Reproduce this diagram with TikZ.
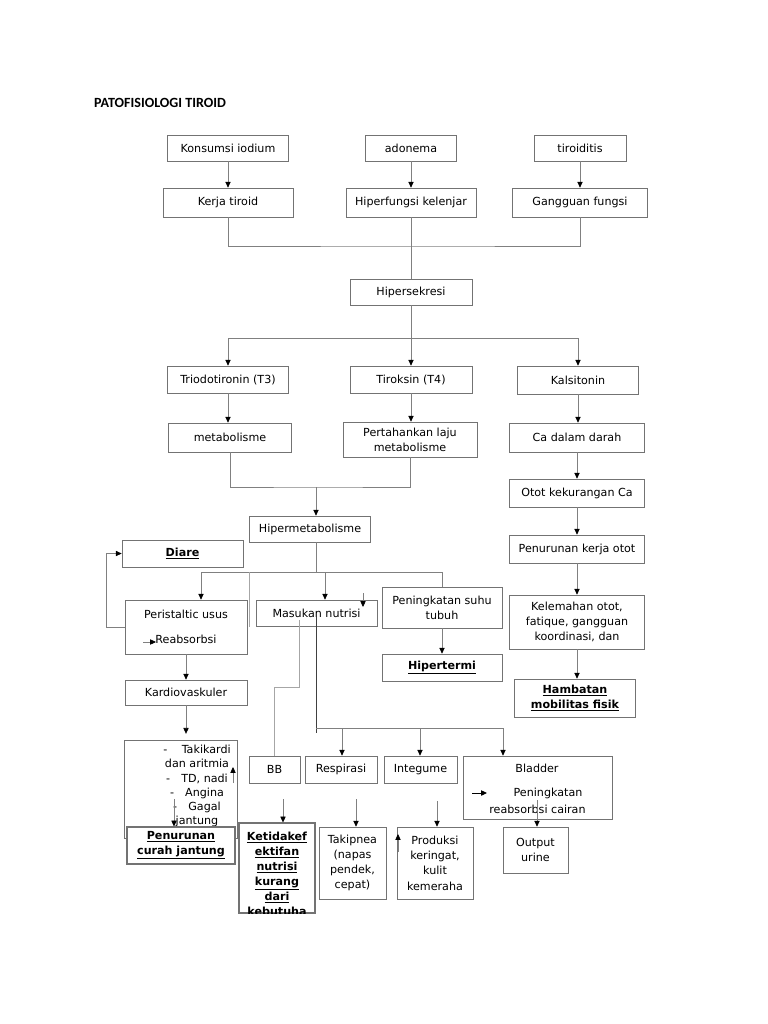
\documentclass[tikz,border=0pt]{standalone}
\usepackage{fontspec}
\setmainfont{DejaVu Sans}
\newfontfamily\titlefont{Carlito}
\usetikzlibrary{arrows.meta}
\newcommand{\undl}[1]{\underline{#1}}
\tikzset{
  box/.style={draw=black!55, line width=0.55pt, inner sep=0pt, align=center, font=\fontsize{9.5}{13}\selectfont},
  sz/.style 2 args={minimum width=#1*0.03cm, minimum height=#2*0.03cm},
  hd/.style={font=\fontsize{9.5}{12.5}\selectfont\bfseries},
  txt/.style={inner sep=0pt, align=center, font=\fontsize{9.5}{13}\selectfont},
  ln/.style={draw=black!50, line width=0.6pt},
  arr/.style={ln, -{Triangle[length=5pt, width=4.5pt, color=black]}},
}
\begin{document}
\begin{tikzpicture}[x=0.03cm, y=-0.03cm]
\fill[white] (0,0) rectangle (768,1024);
\useasboundingbox (0,0) rectangle (768,1024);
\node[anchor=west, font=\titlefont\fontsize{12}{14}\selectfont\bfseries] (title) at (90,103) {PATOFISIOLOGI TIROID};

\node[box, sz={121}{26}] (konsumsi) at (228,148) {Konsumsi iodium};
\node[box, sz={91}{26}] (adonema) at (411,148) {adonema};
\node[box, sz={92}{26}] (tiroiditis) at (580,148) {tiroiditis};
\node[box, sz={130}{29}] (kerja) at (228,202.5) {Kerja tiroid};
\node[box, sz={130}{29}] (hiperfungsi) at (411,202.5) {Hiperfungsi kelenjar};
\node[box, sz={135}{29}] (gangguan) at (580,202.5) {Gangguan fungsi};
\node[box, sz={122}{26}] (hipersekresi) at (411,292) {Hipersekresi};
\node[box, sz={121}{27}] (tiga) at (228,379.5) {Triodotironin (T3)};
\node[box, sz={122}{27}] (empat) at (411,379.5) {Tiroksin (T4)};
\node[box, sz={121}{28}] (kalsitonin) at (578,380) {Kalsitonin};
\node[box, sz={123}{29}] (metab) at (230,437.5) {metabolisme};
\node[box, sz={134}{35}] (laju) at (410,439.5) {Pertahankan laju\\metabolisme};
\node[box, sz={135}{29}] (ca) at (577,437.5) {Ca dalam darah};
\node[box, sz={135}{28}] (otot) at (577,493) {Otot kekurangan Ca};
\node[box, sz={135}{28}] (kerjaotot) at (577,549) {Penurunan kerja otot};
\node[box, sz={135}{54}] (lemah) at (577,622) {Kelemahan otot,\\fatique, gangguan\\koordinasi, dan};
\node[box, hd, sz={121}{38}] (hambatan) at (575,698) {\undl{Hambatan}\\\undl{mobilitas fisik}};

\foreach \a/\b in {konsumsi/kerja, adonema/hiperfungsi, tiroiditis/gangguan, tiga/metab, empat/laju, kalsitonin/ca, ca/otot, otot/kerjaotot, kerjaotot/lemah, lemah/hambatan}
  \draw[arr] (\a.south) -- (\a.south |- \b.north);

\coordinate (j1) at (411,246);
\draw[ln] (kerja.south) |- (j1) -| (gangguan.south);
\draw[ln] (hiperfungsi.south) -- (hipersekresi.north);
\coordinate (j2) at (411,338);
\draw[ln] (hipersekresi.south) -- (j2);
\draw[arr] (j2) -| (tiga.north);
\draw[arr] (j2) -- (empat.north);
\draw[arr] (j2) -| (kalsitonin.north);

\node[box, sz={121}{26}] (hipermeta) at (310,529) {Hipermetabolisme};
\coordinate (j3) at (316,487);
\draw[ln] (metab.south) |- (j3) -| (laju.south);
\draw[arr] (j3) -- (j3 |- hipermeta.north);

\node[box, hd, sz={121}{27}] (diare) at (182.5,553.5) {\undl{Diare}};
\node[box, sz={122}{54}] (peristaltic) at (186,627) {Peristaltic usus\\[8pt]Reabsorbsi};
\node[box, sz={121}{26}] (masukan) at (316.5,613) {Masukan nutrisi};
\node[box, sz={120}{41}] (suhu) at (442,607.5) {Peningkatan suhu\\tubuh};
\node[box, hd, sz={120}{27}] (hipertermi) at (442,667.5) {\undl{Hipertermi}};
\node[box, sz={122}{25}] (kardio) at (186,692.5) {Kardiovaskuler};

\coordinate (j4) at (316,572);
\coordinate (b0) at (249,572);
\coordinate (b1) at (201,572);
\coordinate (b2) at (325,572);
\coordinate (b3) at (442,572);
\draw[ln] (j3 |- hipermeta.south) -- (j4);
\draw[ln] (b1) -- (b3);
\draw[arr] (b1) -- (b1 |- peristaltic.north);
\draw[arr] (b2) -- (b2 |- masukan.north);
\draw[ln] (b3) -- (suhu.north);
\draw[ln, draw=black!35] (b0) -- (b0 |- peristaltic.center);
\draw[arr] (suhu.south) -- (hipertermi.north);
\draw[arr] (peristaltic.west) -- ++(-18,0) |- (diare.west);
\coordinate (r1) at (143,642);
\draw[arr] (r1) -- ++(13,0);
\coordinate (r2) at (363,593);
\draw[arr] (r2) -- ++(0,14);
\draw[arr] (peristaltic.south) -- (peristaltic.south |- kardio.north);

\node[box, sz={113}{98}] (takikardi) at (180.5,789) {};
\node[txt, font=\fontsize{9.5}{12}\selectfont] (takitxt) at (197,786) {-\hspace{1.3em}Takikardi\\dan aritmia\\-\hspace{1em}TD, nadi\\-\hspace{1em}Angina\\-\hspace{1em}Gagal\\jantung};
\draw[arr, shorten >=5pt] (kardio.south) -- (kardio.south |- takikardi.north);
\coordinate (u1) at (233,783);
\draw[arr] (u1) -- ++(0,-16);
\node[box, hd, fill=white, line width=0.9pt, sz={108}{37}] (curah) at (181,845.5) {\undl{Penurunan}\\\undl{curah jantung}};
\coordinate (d1) at (174,799);
\draw[arr] (d1) -- (d1 |- curah.north);

\node[box, sz={51}{27}] (bb) at (274.5,769.5) {BB};
\node[box, sz={72}{27}] (respirasi) at (341,769.5) {Respirasi};
\node[box, sz={73}{27}] (integume) at (420.5,769.5) {Integume};
\node[box, sz={149}{63}] (bladder) at (537.5,787.5) {};
\node[txt] (bladdera) at (537,768) {Bladder};
\node[txt] (bladderb) at (548,793) {Peningkatan};
\node[txt] (bladderc) at (537.5,809) {reabsorbsi cairan};
\coordinate (p1) at (472,793);
\draw[thick, -{Triangle[length=5pt, width=4.5pt]}] (p1) -- ++(15,0);

\coordinate (m1) at (299,620);
\draw[ln, draw=black!35] (m1) -- ++(0,67) -| (bb.north);
\coordinate (m2) at (316,617);
\draw[ln, draw=black!75] (m2) -- ++(0,116);
\coordinate (k1) at (316,728);
\coordinate (k2) at (503,728);
\coordinate (k3) at (342,728);
\coordinate (k4) at (420,728);
\draw[ln] (k1) -- (k2);
\draw[arr] (k2) -- (k2 |- bladder.north);
\draw[arr] (k3) -- (k3 |- respirasi.north);
\draw[arr] (k4) -- (k4 |- integume.north);

\node[box, line width=0.9pt, sz={76}{90}] (ketidak) at (277,868) {};
\begin{scope}
\clip (ketidak.south west) rectangle (ketidak.north east);
\node[txt, hd, font=\fontsize{9.5}{12.8}\selectfont\bfseries] (ketidaktxt) at (277,875) {\undl{Ketidakef}\\\undl{ektifan}\\\undl{nutrisi}\\\undl{kurang}\\\undl{dari}\\\undl{kebutuha}};
\end{scope}
\node[box, sz={67}{72}] (takipnea) at (352.5,863) {Takipnea\\(napas\\pendek,\\cepat)};
\node[box, sz={76}{72}] (produksi) at (435,863) {Produksi\\keringat,\\kulit\\kemeraha};
\node[box, sz={65}{46}] (output) at (535.5,850) {Output\\urine};

\coordinate (d2) at (283,799);
\coordinate (d3) at (356,799);
\coordinate (d4) at (437,801);
\coordinate (d5) at (537,800);
\draw[arr] (d2) -- (d2 |- ketidak.north);
\draw[arr] (d3) -- (d3 |- takipnea.north);
\draw[arr] (d4) -- (d4 |- produksi.north);
\draw[arr] (d5) -- (d5 |- output.north);
\coordinate (u2) at (398,852);
\draw[arr] (u2) -- ++(0,-18);
\end{tikzpicture}
\end{document}
